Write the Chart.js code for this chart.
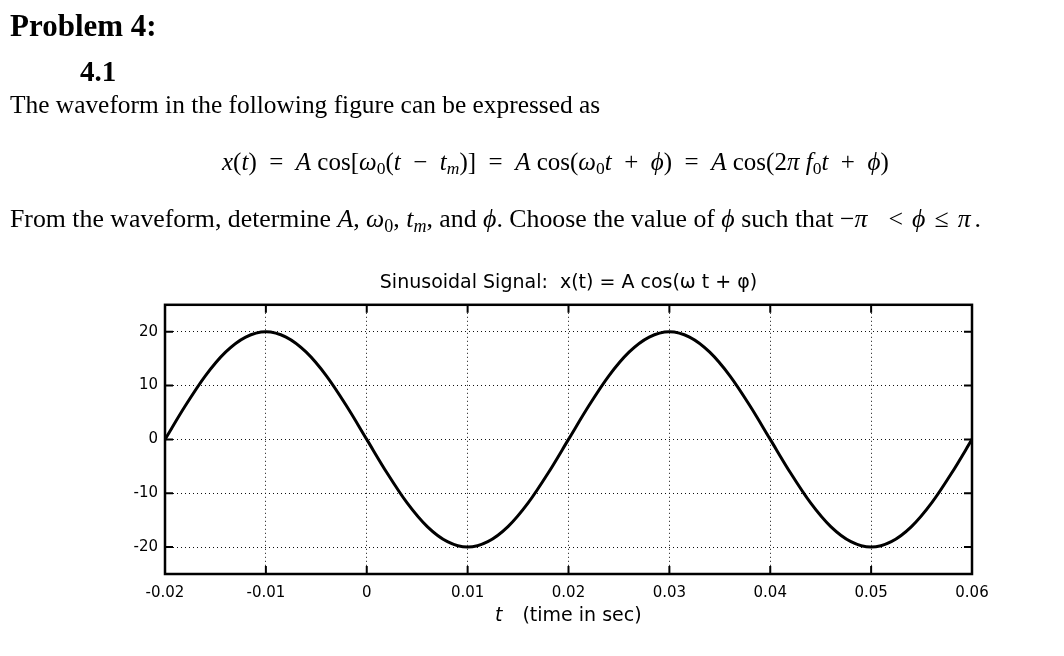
<!DOCTYPE html>
<html>
<head>
<meta charset="utf-8">
<script src="https://cdn.jsdelivr.net/npm/chart.js@4.4.1/dist/chart.umd.min.js"></script>
<style>
    html, body {
        margin: 0;
        padding: 0;
        background: #ffffff;
        width: 1064px;
        height: 656px;
        overflow: hidden;
    }
    #chart0 {
        position: absolute;
        left: 0;
        top: 0;
    }
    .txt {
        position: absolute;
        z-index: 2;
        font-family: "Liberation Serif", "Times New Roman", serif;
        color: #000;
        line-height: 1;
        white-space: nowrap;
    }
    .txt sub {
        font-size: 0.7em;
        vertical-align: -0.25em;
        line-height: 0;
    }
    .rel {
        display: inline-block;
    }
    #xlabel {
        position: absolute;
        z-index: 2;
        font-family: "DejaVu Sans", sans-serif;
        font-size: 19px;
        line-height: 1;
        color: #000;
        white-space: nowrap;
    }
</style>
</head>
<body>
<div class="txt" style="left:10px; top:10px; font-size:31px; font-weight:bold;">Problem 4:</div>
<div class="txt" style="left:80px; top:57px; font-size:29px; font-weight:bold;">4.1</div>
<div class="txt" style="left:10px; top:92px; font-size:25.4px;">The waveform in the following figure can be expressed as</div>
<div class="txt" style="left:222px; top:149px; font-size:25px;"><i>x</i>(<i>t</i>) &nbsp;=&nbsp; <i>A</i> cos[<i>ω</i><sub>0</sub>(<i>t</i> &nbsp;−&nbsp; <i>t<sub>m</sub></i>)] &nbsp;=&nbsp; <i>A</i> cos(<i>ω</i><sub>0</sub><i>t</i> &nbsp;+&nbsp; <i>ϕ</i>) &nbsp;=&nbsp; <i>A</i> cos(2<i>π f</i><sub>0</sub><i>t</i> &nbsp;+&nbsp; <i>ϕ</i>)</div>
<div class="txt" style="left:10px; top:206px; font-size:25.8px;">From the waveform, determine <i>A</i>, <i>ω</i><sub>0</sub>, <i>t<sub>m</sub></i>, and <i>ϕ</i>. Choose the value of <i>ϕ</i> such that −<i>π</i><span class="rel" style="margin:0 9px 0 21px;">&lt;</span><i>ϕ</i><span class="rel" style="margin:0 9px;">≤</span><i>π</i><span class="rel" style="margin-left:4px;">.</span></div>
<div id="xlabel" style="left:495px; top:605px;"><i>t</i><span style="margin-left:20px;">(time in sec)</span></div>

<canvas id="chart0" width="1064" height="656"></canvas>

<script>
// values
const tValues = [-0.02, -0.018, -0.016, -0.014, -0.012, -0.01, -0.008, -0.006, -0.004, -0.002,
    0, 0.002, 0.004, 0.006, 0.008, 0.01, 0.012, 0.014, 0.016, 0.018,
    0.02, 0.022, 0.024, 0.026, 0.028, 0.03, 0.032, 0.034, 0.036, 0.038,
    0.04, 0.042, 0.044, 0.046, 0.048, 0.05, 0.052, 0.054, 0.056, 0.058, 0.06];
const signalValues = [0, 6.2, 11.8, 16.2, 19, 20, 19, 16.2, 11.8, 6.2,
    0, -6.2, -11.8, -16.2, -19, -20, -19, -16.2, -11.8, -6.2,
    0, 6.2, 11.8, 16.2, 19, 20, 19, 16.2, 11.8, 6.2,
    0, -6.2, -11.8, -16.2, -19, -20, -19, -16.2, -11.8, -6.2, 0];

const xTicks = [-0.02, -0.01, 0, 0.01, 0.02, 0.03, 0.04, 0.05, 0.06];
const xTickLabels = ["-0.02", "-0.01", "0", "0.01", "0.02", "0.03", "0.04", "0.05", "0.06"];
const yTicks = [-20, -10, 0, 10, 20];
const yTickLabels = ["-20", "-10", "0", "10", "20"];

const chartTitle = "Sinusoidal Signal:  x(t) = A cos(\u03c9 t + \u03c6)";

const tickFont = { family: "DejaVu Sans", size: 15 };

// box round the plot with inward tick marks on all four sides
const boxPlugin = {
    id: "box",
    afterDatasetsDraw(chart) {
        const ctx = chart.ctx;
        const a = chart.chartArea;
        const tl = 8;
        ctx.save();
        ctx.strokeStyle = "#000";
        ctx.lineWidth = 2;
        ctx.beginPath();
        xTicks.forEach(v => {
            const px = chart.scales.x.getPixelForValue(v);
            ctx.moveTo(px, a.bottom);
            ctx.lineTo(px, a.bottom - tl);
            ctx.moveTo(px, a.top);
            ctx.lineTo(px, a.top + tl);
        });
        yTicks.forEach(v => {
            const py = chart.scales.y.getPixelForValue(v);
            ctx.moveTo(a.left, py);
            ctx.lineTo(a.left + tl, py);
            ctx.moveTo(a.right, py);
            ctx.lineTo(a.right - tl, py);
        });
        ctx.stroke();
        ctx.lineWidth = 2.5;
        ctx.strokeRect(a.left, a.top, a.right - a.left, a.bottom - a.top);
        ctx.restore();
    }
};

const ctx = document.getElementById("chart0").getContext("2d");
const chart = new Chart(ctx, {
    type: "line",
    data: {
        datasets: [
            {
                label: "x(t)",
                data: tValues.map((t, i) => ({ x: t, y: signalValues[i] })),
                borderColor: "#000",
                borderWidth: 3,
                pointRadius: 0,
                cubicInterpolationMode: "monotone",
                borderCapStyle: "round",
                fill: false,
            },
        ],
    },
    options: {
        responsive: false,
        animation: false,
        layout: {
            padding: { left: 0, right: 92, top: 272, bottom: 52 },
        },
        plugins: {
            legend: { display: false },
            tooltip: { enabled: false },
            title: {
                display: true,
                fullSize: false,
                text: chartTitle,
                color: "#000",
                font: { family: "DejaVu Sans", size: 19, weight: "normal", lineHeight: 1.2 },
                padding: { top: 0, bottom: 10 },
            },
        },
        scales: {
            x: {
                type: "linear",
                min: -0.02,
                max: 0.06,
                afterBuildTicks: scale => {
                    scale.ticks = xTicks.map(v => ({ value: v }));
                },
                afterFit: scale => {
                    scale.height = 30;
                },
                ticks: {
                    color: "#000",
                    font: tickFont,
                    padding: 10,
                    maxRotation: 0,
                    autoSkip: false,
                    callback: (value, index) => xTickLabels[index],
                },
                grid: {
                    color: "#111",
                    lineWidth: 1,
                    drawTicks: false,
                },
                border: { display: false, dash: [1, 3] },
            },
            y: {
                min: -25,
                max: 25,
                afterBuildTicks: scale => {
                    scale.ticks = yTicks.map(v => ({ value: v }));
                },
                afterFit: scale => {
                    scale.width = 165;
                },
                ticks: {
                    color: "#000",
                    font: tickFont,
                    padding: 7,
                    callback: (value, index) => yTickLabels[index],
                },
                grid: {
                    color: "#111",
                    lineWidth: 1,
                    drawTicks: false,
                },
                border: { display: false, dash: [1, 3] },
            },
        },
    },
    plugins: [boxPlugin],
});
</script>
</body>
</html>
